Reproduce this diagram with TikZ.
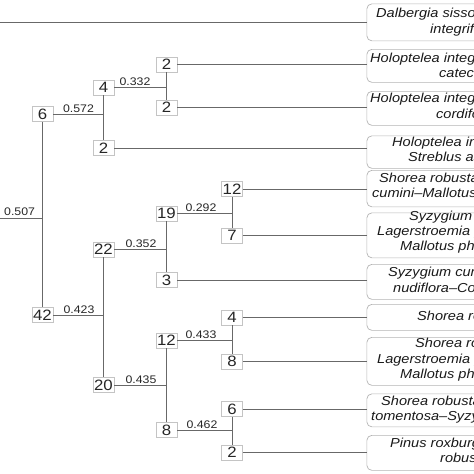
\documentclass[tikz,border=0pt]{standalone}
\usepackage{fontspec}
\newfontfamily\labfont[FakeStretch=1.12]{Liberation Sans}
\usetikzlibrary{calc}
\definecolor{edgecol}{HTML}{686868}
\definecolor{nboxcol}{HTML}{C4C4C4}
\definecolor{lbordcol}{HTML}{B4B4B4}
\tikzset{
  tn/.style={draw=nboxcol, line width=0.7pt, fill=white, minimum width=21pt, minimum height=15pt, inner sep=0pt, font=\labfont\fontsize{15}{15}\selectfont, text=black!85},
  elab/.style={anchor=base west, inner sep=0pt, font=\labfont\fontsize{11}{11}\selectfont, text=black!85},
  ltxt/.style={anchor=mid west, inner sep=0pt, font=\labfont\itshape\fontsize{13}{13}\selectfont, text=black!90},
  lbox/.style={draw=lbordcol, line width=0.7pt, rounded corners=5pt, anchor=north west, minimum width=200pt, inner sep=0pt},
  br/.style={draw=edgecol, line width=0.9pt},
}
\begin{document}
\begin{tikzpicture}[x=1pt,y=-1pt]
\useasboundingbox (0,0) rectangle (474,474);
\clip (0,0) rectangle (474,474);
% label boxes
\node[lbox, minimum height=37pt] (b1) at (366.5,3.5) {};
\node[lbox, minimum height=33pt] (b2) at (366.5,49) {};
\node[lbox, minimum height=34pt] (b3) at (366.5,91) {};
\node[lbox, minimum height=32.5pt] (b4) at (366.5,135.5) {};
\node[lbox, minimum height=36.5pt] (b5) at (366.5,170) {};
\node[lbox, minimum height=45pt] (b6) at (366.5,212.5) {};
\node[lbox, minimum height=35pt] (b7) at (366.5,264) {};
\node[lbox, minimum height=26pt] (b8) at (366.5,304) {};
\node[lbox, minimum height=48pt] (b9) at (366.5,337) {};
\node[lbox, minimum height=33pt] (b10) at (366.5,393.5) {};
\node[lbox, minimum height=35pt] (b11) at (366.5,435) {};
% label texts
\node[ltxt] (t1a) at (376,15) {Dalbergia sissoo–Holoptelea};
\node[ltxt] (t1b) at (430,31.7) {integrifolia};
\node[ltxt] (t2a) at (370,60.5) {Holoptelea integrifolia–Acacia};
\node[ltxt] (t2b) at (439,75) {catechu};
\node[ltxt] (t3a) at (370,100.5) {Holoptelea integ.–Tinospora};
\node[ltxt] (t3b) at (436,116.5) {cordifolia};
\node[ltxt] (t4a) at (392,144.5) {Holoptelea integrifolia–};
\node[ltxt] (t4b) at (408,159) {Streblus asper};
\node[ltxt] (t5a) at (379,180) {Shorea robusta–Syzygium};
\node[ltxt] (t5b) at (372,195.5) {cumini–Mallotus philippensis};
\node[ltxt] (t6a) at (409,218) {Syzygium cumini–};
\node[ltxt] (t6b) at (377,233.5) {Lagerstroemia parviflora–};
\node[ltxt] (t6c) at (400,248.5) {Mallotus philippensis};
\node[ltxt] (t7a) at (388,274) {Syzygium cumini–Ficus};
\node[ltxt] (t7b) at (393,290) {nudiflora–Cordia dichotoma};
\node[ltxt] (t8a) at (417,318) {Shorea robusta};
\node[ltxt] (t9a) at (415,345.5) {Shorea robusta–};
\node[ltxt] (t9b) at (377,361.5) {Lagerstroemia parviflora–};
\node[ltxt] (t9c) at (400,376.5) {Mallotus philippensis};
\node[ltxt] (t10a) at (381,403.5) {Shorea robusta–Terminalia};
\node[ltxt] (t10b) at (371,418.5) {tomentosa–Syzygium cumini};
\node[ltxt] (t11a) at (390,445) {Pinus roxburghii–Shorea};
\node[ltxt] (t11b) at (440,460.5) {robusta};
% tree nodes
\node[tn] (n6) at (42.5,114) {6};
\node[tn] (n4) at (103.5,87.5) {4};
\node[tn] (n2a) at (166.5,64.5) {2};
\node[tn] (n2b) at (166.5,107.5) {2};
\node[tn] (n2c) at (103.5,148) {2};
\node[tn] (n42) at (42.5,315) {42};
\node[tn] (n22) at (103.5,249.5) {22};
\node[tn] (n19) at (166.5,213.5) {19};
\node[tn] (n12a) at (232,189) {12};
\node[tn] (n7) at (232,235.5) {7};
\node[tn] (n3) at (166.5,280) {3};
\node[tn] (n20) at (103.5,385) {20};
\node[tn] (n12b) at (166.5,340.5) {12};
\node[tn] (n4b) at (232,317.5) {4};
\node[tn] (n8a) at (232,361.5) {8};
\node[tn] (n8b) at (166.5,430) {8};
\node[tn] (n6b) at (232,409) {6};
\node[tn] (n2d) at (232,452.5) {2};
% root and top lines
\coordinate (top) at (0,22);
\coordinate (root) at (0,218.5);
\draw[br] (top) -- (top -| b1.west);
\draw[br] (root) -- (root -| n6);
\draw[br] (n6.south) -- (n42.north);
% internal branches
\draw[br] (n6.east) -- (n6.east -| n4);
\draw[br] (n4.south) -- (n2c.north);
\draw[br] (n4.east) -- (n4.east -| n2a);
\draw[br] (n2a.south) -- (n2b.north);
\draw[br] (n42.east) -- (n42.east -| n22);
\draw[br] (n22.south) -- (n20.north);
\draw[br] (n22.east) -- (n22.east -| n19);
\draw[br] (n19.south) -- (n3.north);
\draw[br] (n19.east) -- (n19.east -| n12a);
\draw[br] (n12a.south) -- (n7.north);
\draw[br] (n20.east) -- (n20.east -| n12b);
\draw[br] (n12b.south) -- (n8b.north);
\draw[br] (n12b.east) -- (n12b.east -| n4b);
\draw[br] (n4b.south) -- (n8a.north);
\draw[br] (n8b.east) -- (n8b.east -| n6b);
\draw[br] (n6b.south) -- (n2d.north);
% leaf lines
\draw[br] (n2a.east) -- (n2a.east -| b2.west);
\draw[br] (n2b.east) -- (n2b.east -| b3.west);
\draw[br] (n2c.east) -- (n2c.east -| b4.west);
\draw[br] (n12a.east) -- (n12a.east -| b5.west);
\draw[br] (n7.east) -- (n7.east -| b6.west);
\draw[br] (n3.east) -- (n3.east -| b7.west);
\draw[br] (n4b.east) -- (n4b.east -| b8.west);
\draw[br] (n8a.east) -- (n8a.east -| b9.west);
\draw[br] (n6b.east) -- (n6b.east -| b10.west);
\draw[br] (n2d.east) -- (n2d.east -| b11.west);
% edge labels
\node[elab] (l0) at ($(root)+(4,-3)$) {0.507};
\node[elab] (l1) at ($(n6.east)+(9.5,-2)$) {0.572};
\node[elab] (l2) at ($(n4.east)+(5,-2)$) {0.332};
\node[elab] (l3) at ($(n42.east)+(10,-2)$) {0.423};
\node[elab] (l4) at ($(n22.east)+(11,-2)$) {0.352};
\node[elab] (l5) at ($(n19.east)+(8,-2)$) {0.292};
\node[elab] (l6) at ($(n20.east)+(11,-2)$) {0.435};
\node[elab] (l7) at ($(n12b.east)+(8,-2)$) {0.433};
\node[elab] (l8) at ($(n8b.east)+(9,-2)$) {0.462};
\end{tikzpicture}
\end{document}
